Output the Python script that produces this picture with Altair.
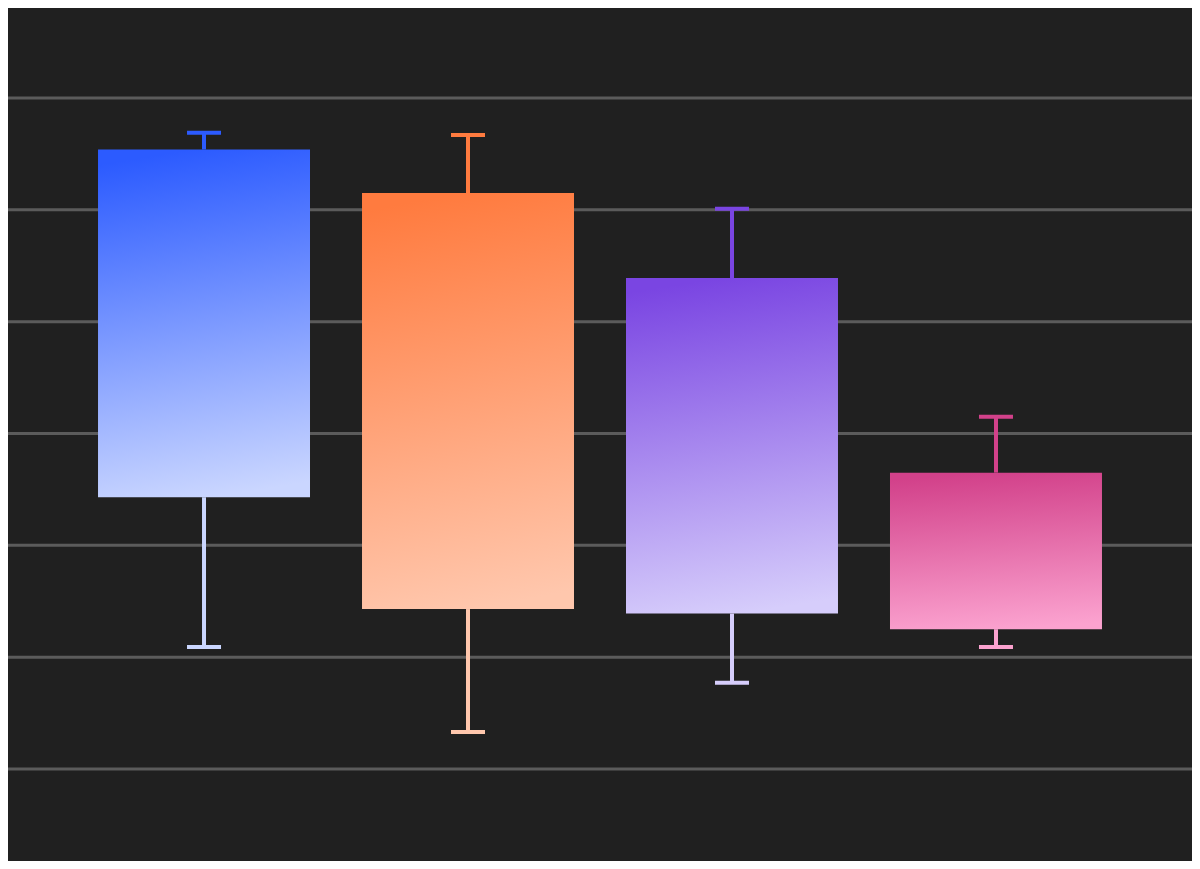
import altair as alt
import pandas as pd

groups = ["A", "B", "C", "D"]
whisker_low = [10.9, 3.3, 7.7, 10.9]
q1 = [24.3, 14.3, 13.9, 12.5]
q3 = [55.4, 51.5, 43.9, 26.5]
whisker_high = [56.9, 56.7, 50.1, 31.5]
top_colors = ["#2c5bff", "#ff7b3f", "#7a45e2", "#d2418a"]
bottom_colors = ["#cad6ff", "#ffc7ad", "#d6cdfb", "#fba2cf"]
grid_values = [0, 10, 20, 30, 40, 50, 60]

df = pd.DataFrame({
    "group": groups,
    "lo": whisker_low,
    "q1": q1,
    "q3": q3,
    "hi": whisker_high,
})
grid_df = pd.DataFrame({"v": grid_values})

BG = "#202020"

x_enc = alt.X(
    "group:N",
    sort=groups,
    scale=alt.Scale(paddingInner=0.197, paddingOuter=0.341),
    axis=None,
)
y_scale = alt.Scale(domain=[-8.23, 68.05], nice=False, zero=False)

layers = []
grid = alt.Chart(grid_df).mark_rule(color="#5b5b5b", strokeWidth=3).encode(
    y=alt.Y("v:Q", scale=y_scale, axis=None)
)
layers.append(grid)

base = alt.Chart(df)
for g, tc, bc in zip(groups, top_colors, bottom_colors):
    sub = base.transform_filter(alt.datum.group == g)
    upper_rule = sub.mark_rule(color=tc, strokeWidth=4).encode(
        x=x_enc, y=alt.Y("q3:Q", scale=y_scale, axis=None), y2="hi:Q"
    )
    lower_rule = sub.mark_rule(color=bc, strokeWidth=4).encode(
        x=x_enc, y=alt.Y("lo:Q", scale=y_scale, axis=None), y2="q1:Q"
    )
    upper_cap = sub.mark_tick(color=tc, size=34, thickness=4, opacity=1).encode(
        x=x_enc, y=alt.Y("hi:Q", scale=y_scale, axis=None)
    )
    lower_cap = sub.mark_tick(color=bc, size=34, thickness=4, opacity=1).encode(
        x=x_enc, y=alt.Y("lo:Q", scale=y_scale, axis=None)
    )
    box = sub.mark_bar(
        color=alt.Gradient(
            gradient="linear",
            stops=[
                alt.GradientStop(color=tc, offset=0),
                alt.GradientStop(color=bc, offset=1),
            ],
            x1=0.45, x2=0.55, y1=0, y2=1,
        ),
        opacity=1,
    ).encode(
        x=x_enc, y=alt.Y("q1:Q", scale=y_scale, axis=None), y2="q3:Q"
    )
    layers += [upper_rule, lower_rule, upper_cap, lower_cap, box]

chart = alt.layer(*layers).properties(
    width=1184,
    height=853,
    padding=0,
    autosize=alt.AutoSizeParams(type="none"),
    background=BG,
).configure_view(stroke=None, fill=BG)

chart.save("out.html", embed_options={"renderer": "svg", "actions": False})
